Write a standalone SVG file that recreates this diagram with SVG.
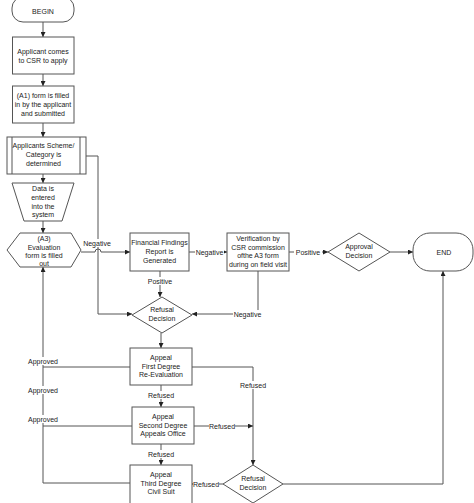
<svg xmlns="http://www.w3.org/2000/svg" width="474" height="503" viewBox="0 0 474 503">
<defs>
<marker id="ah" viewBox="0 0 6 6" refX="6" refY="3" markerWidth="5" markerHeight="5" orient="auto" markerUnits="userSpaceOnUse">
<path d="M0,0 L6,3 L0,6 z" fill="#222"/>
</marker>
<style>
.s{fill:#fff;stroke:#555;stroke-width:1}
.c{fill:none;stroke:#555;stroke-width:1}
.a{marker-end:url(#ah)}
text{font-family:"Liberation Sans",Arial,sans-serif;font-size:7px;fill:#222;text-anchor:middle}
.lb{fill:#fff;stroke:none}
</style>
</defs>
<rect width="474" height="503" fill="#fff"/>
<g id="connectors">
<path class="c a" d="M43,22 V37"/>
<path class="c a" d="M43,74 V86"/>
<path class="c a" d="M43,123 V137"/>
<path class="c a" d="M43,174 V183"/>
<path class="c a" d="M43,221 V233"/>
<path class="c a" d="M86,156 H98 V314 H132"/>
<path class="c a" d="M81,252 H95 a3,3 0 0 1 6,0 H130"/>
<path class="c a" d="M189,252 H227"/>
<path class="c a" d="M289,252 H328"/>
<path class="c a" d="M390,252 H413"/>
<path class="c a" d="M160,271 V297"/>
<path class="c a" d="M258,271 V314 H192"/>
<path class="c a" d="M161,333 V348"/>
<path class="c a" d="M161,385 V407"/>
<path class="c a" d="M161,444 V465"/>
<path class="c a" d="M130,367 H43 V267"/>
<path class="c" d="M132,426 H43"/>
<path class="c" d="M130,483 H43 V367"/>
<path class="c a" d="M192,367 H253 V465"/>
<path class="c a" d="M194,426 H253"/>
<path class="c a" d="M223,484 H192"/>
<path class="c a" d="M283,484 H443 V271"/>
<rect class="lb" x="83" y="239" width="28" height="8"/><text x="97" y="246">Negative</text>
<rect class="lb" x="195" y="248" width="29" height="8"/><text x="209.5" y="254.5">Negative</text>
<rect class="lb" x="294" y="248" width="28" height="8"/><text x="308" y="254.5">Positive</text>
<rect class="lb" x="148" y="277" width="25" height="8"/><text x="160" y="284">Positive</text>
<rect class="lb" x="233" y="310" width="29" height="8"/><text x="247.5" y="316.5">Negative</text>
<rect class="lb" x="29" y="357" width="29" height="8"/><text x="43" y="364">Approved</text>
<rect class="lb" x="29" y="386" width="29" height="8"/><text x="43" y="393">Approved</text>
<rect class="lb" x="29" y="415" width="29" height="8"/><text x="43" y="422">Approved</text>
<rect class="lb" x="148" y="391" width="26" height="8"/><text x="161" y="397.5">Refused</text>
<rect class="lb" x="148" y="450" width="26" height="8"/><text x="161" y="456.5">Refused</text>
<rect class="lb" x="240" y="381" width="26" height="8"/><text x="253" y="387.5">Refused</text>
<rect class="lb" x="209" y="422" width="26" height="8"/><text x="222" y="428.5">Refused</text>
<rect class="lb" x="193" y="480" width="26" height="8"/><text x="206" y="486.5">Refused</text>
</g>
<g id="begin"><rect class="s" x="12" y="-3" width="62" height="25" rx="11"/><text x="43" y="14">BEGIN</text></g>
<g id="applicant"><rect class="s" x="12.5" y="37" width="61.5" height="37"/><text x="43" y="54">Applicant comes</text><text x="43" y="63">to CSR to apply</text></g>
<g id="a1form"><rect class="s" x="12.5" y="86" width="61.5" height="37"/><text x="43" y="98">(A1) form is filled</text><text x="43" y="107">in by the applicant</text><text x="43" y="116">and submitted</text></g>
<g id="scheme"><rect class="s" x="7" y="137" width="79" height="37"/><path class="c" d="M12,137 V174 M80,137 V174"/><text x="43.5" y="148">Applicants Scheme/</text><text x="43.5" y="157">Category is</text><text x="43.5" y="166">determined</text></g>
<g id="data"><path class="s" d="M12,183 H74 L62,221 H24 z"/><text x="43" y="191">Data is</text><text x="43" y="200">entered</text><text x="43" y="208.5">into the</text><text x="43" y="217">system</text></g>
<g id="a3form"><path class="s" d="M7,250 L20,233 H71 L81,250 L71,267 H20 z"/><text x="44" y="241">(A3)</text><text x="44" y="249.5">Evaluation</text><text x="44" y="258">form is filled</text><text x="44" y="266">out</text></g>
<g id="financial"><rect class="s" x="130" y="233" width="59" height="38"/><text x="159.5" y="245">Financial Findings</text><text x="159.5" y="254">Report is</text><text x="159.5" y="262.5">Generated</text></g>
<g id="verification"><rect class="s" x="227" y="233" width="62" height="38"/><text x="258" y="241">Verification by</text><text x="258" y="249.5">CSR commission</text><text x="258" y="258">ofthe A3 form</text><text x="258" y="266.5">during on field visit</text></g>
<g id="approval"><path class="s" d="M328,252 L359,233 L390,252 L359,271 z"/><text x="359" y="249">Approval</text><text x="359" y="258">Decision</text></g>
<g id="end"><rect class="s" x="413" y="233" width="60" height="38" rx="17"/><text x="444" y="254.5">END</text></g>
<g id="refusal1"><path class="s" d="M132,315 L162,297 L192,315 L162,333 z"/><text x="162" y="312">Refusal</text><text x="162" y="321">Decision</text></g>
<g id="appeal1"><rect class="s" x="130" y="348" width="62" height="37"/><text x="161" y="360">Appeal</text><text x="161" y="368.5">First Degree</text><text x="161" y="377">Re-Evaluation</text></g>
<g id="appeal2"><rect class="s" x="132" y="407" width="62" height="37"/><text x="163" y="419">Appeal</text><text x="163" y="427.5">Second Degree</text><text x="163" y="436">Appeals Office</text></g>
<g id="appeal3"><rect class="s" x="130" y="465" width="62" height="42"/><text x="161" y="477">Appeal</text><text x="161" y="485.5">Third Degree</text><text x="161" y="494">Civil Suit</text></g>
<g id="refusal2"><path class="s" d="M223,484 L253,465 L283,484 L253,503 z"/><text x="253" y="481">Refusal</text><text x="253" y="490">Decision</text></g>
</svg>
